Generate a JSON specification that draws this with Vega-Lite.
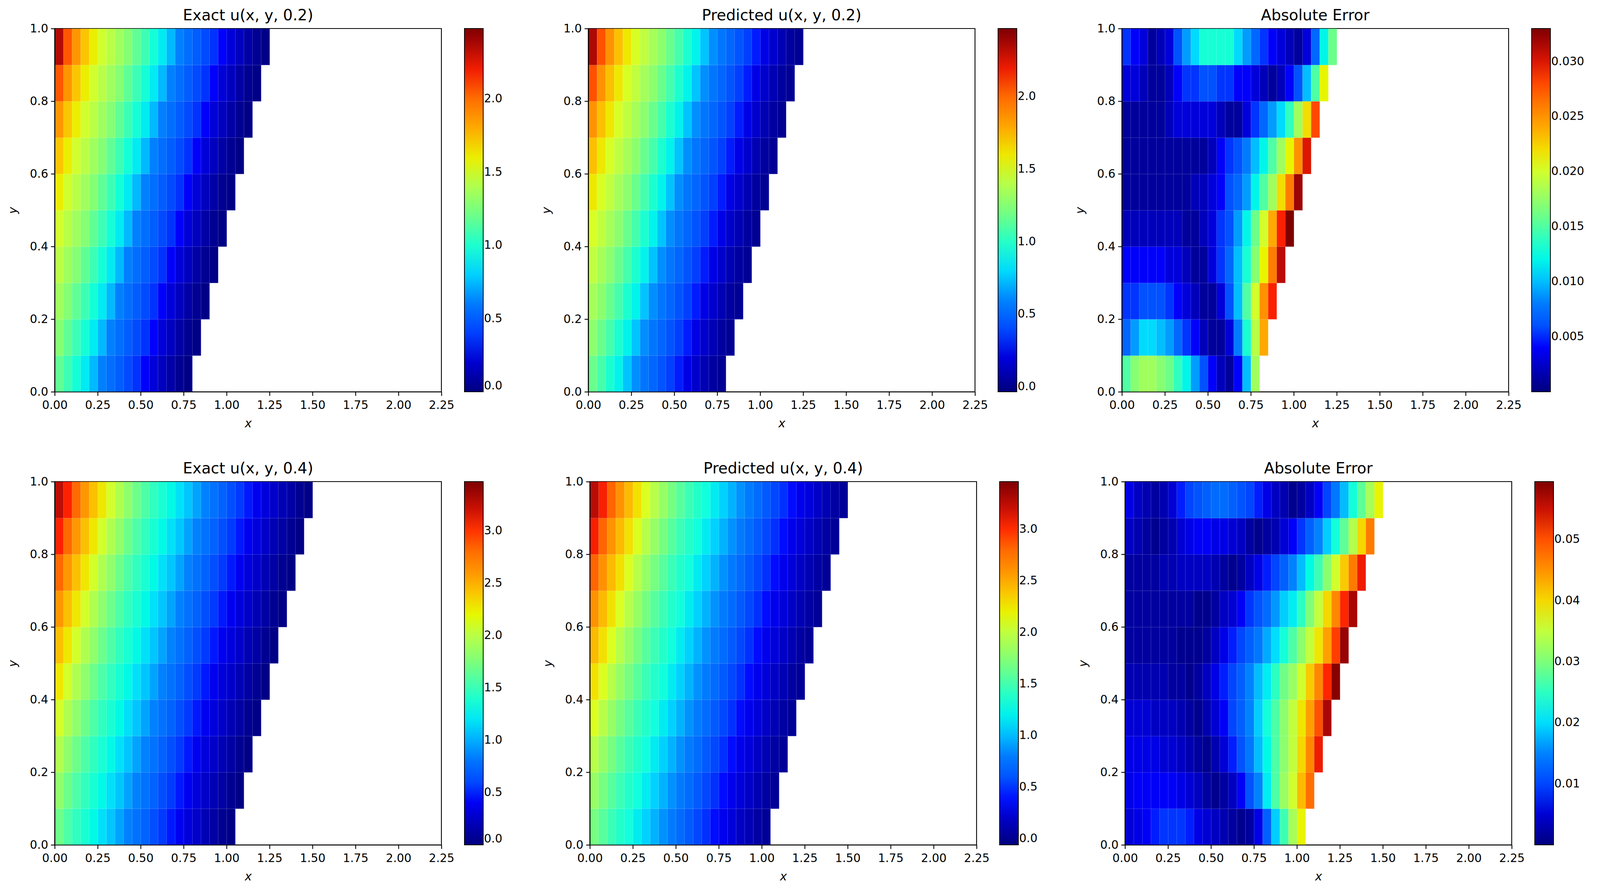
{"$schema":"https://vega.github.io/schema/vega-lite/v6.json","background":"white","padding":{"left":16,"top":19,"right":5,"bottom":5},"bounds":"flush","spacing":1160,"resolve":{"scale":{"color":"independent"},"legend":{"color":"independent"}},
"datasets":{"ua":[
{"x":0,"y":0,"v":1.17},{"x":0.05,"y":0,"v":1.08},{"x":0.1,"y":0,"v":0.97},{"x":0.15,"y":0,"v":0.87},{"x":0.2,"y":0,"v":0.74},{"x":0.25,"y":0,"v":0.62},{"x":0.3,"y":0,"v":0.55},{"x":0.35,"y":0,"v":0.49},{"x":0.4,"y":0,"v":0.43},{"x":0.45,"y":0,"v":0.37},{"x":0.5,"y":0,"v":0.3},{"x":0.55,"y":0,"v":0.22},{"x":0.6,"y":0,"v":0.16},{"x":0.65,"y":0,"v":0.1},{"x":0.7,"y":0,"v":0.05},{"x":0.75,"y":0,"v":0.02},
{"x":0,"y":0.1,"v":1.27},{"x":0.05,"y":0.1,"v":1.17},{"x":0.1,"y":0.1,"v":1.08},{"x":0.15,"y":0.1,"v":0.97},{"x":0.2,"y":0.1,"v":0.87},{"x":0.25,"y":0.1,"v":0.74},{"x":0.3,"y":0.1,"v":0.62},{"x":0.35,"y":0.1,"v":0.55},{"x":0.4,"y":0.1,"v":0.49},{"x":0.45,"y":0.1,"v":0.43},{"x":0.5,"y":0.1,"v":0.37},{"x":0.55,"y":0.1,"v":0.3},{"x":0.6,"y":0.1,"v":0.22},{"x":0.65,"y":0.1,"v":0.16},{"x":0.7,"y":0.1,"v":0.1},{"x":0.75,"y":0.1,"v":0.05},{"x":0.8,"y":0.1,"v":0.02},
{"x":0,"y":0.2,"v":1.35},{"x":0.05,"y":0.2,"v":1.27},{"x":0.1,"y":0.2,"v":1.17},{"x":0.15,"y":0.2,"v":1.08},{"x":0.2,"y":0.2,"v":0.97},{"x":0.25,"y":0.2,"v":0.87},{"x":0.3,"y":0.2,"v":0.74},{"x":0.35,"y":0.2,"v":0.62},{"x":0.4,"y":0.2,"v":0.55},{"x":0.45,"y":0.2,"v":0.49},{"x":0.5,"y":0.2,"v":0.43},{"x":0.55,"y":0.2,"v":0.37},{"x":0.6,"y":0.2,"v":0.3},{"x":0.65,"y":0.2,"v":0.22},{"x":0.7,"y":0.2,"v":0.16},{"x":0.75,"y":0.2,"v":0.1},{"x":0.8,"y":0.2,"v":0.05},{"x":0.85,"y":0.2,"v":0.02},
{"x":0,"y":0.3,"v":1.43},{"x":0.05,"y":0.3,"v":1.35},{"x":0.1,"y":0.3,"v":1.27},{"x":0.15,"y":0.3,"v":1.17},{"x":0.2,"y":0.3,"v":1.08},{"x":0.25,"y":0.3,"v":0.97},{"x":0.3,"y":0.3,"v":0.87},{"x":0.35,"y":0.3,"v":0.74},{"x":0.4,"y":0.3,"v":0.62},{"x":0.45,"y":0.3,"v":0.55},{"x":0.5,"y":0.3,"v":0.49},{"x":0.55,"y":0.3,"v":0.43},{"x":0.6,"y":0.3,"v":0.37},{"x":0.65,"y":0.3,"v":0.3},{"x":0.7,"y":0.3,"v":0.22},{"x":0.75,"y":0.3,"v":0.16},{"x":0.8,"y":0.3,"v":0.1},{"x":0.85,"y":0.3,"v":0.05},{"x":0.9,"y":0.3,"v":0.02},
{"x":0,"y":0.4,"v":1.5},{"x":0.05,"y":0.4,"v":1.43},{"x":0.1,"y":0.4,"v":1.35},{"x":0.15,"y":0.4,"v":1.27},{"x":0.2,"y":0.4,"v":1.17},{"x":0.25,"y":0.4,"v":1.08},{"x":0.3,"y":0.4,"v":0.97},{"x":0.35,"y":0.4,"v":0.87},{"x":0.4,"y":0.4,"v":0.74},{"x":0.45,"y":0.4,"v":0.62},{"x":0.5,"y":0.4,"v":0.55},{"x":0.55,"y":0.4,"v":0.49},{"x":0.6,"y":0.4,"v":0.43},{"x":0.65,"y":0.4,"v":0.37},{"x":0.7,"y":0.4,"v":0.3},{"x":0.75,"y":0.4,"v":0.22},{"x":0.8,"y":0.4,"v":0.16},{"x":0.85,"y":0.4,"v":0.1},{"x":0.9,"y":0.4,"v":0.05},{"x":0.95,"y":0.4,"v":0.02},
{"x":0,"y":0.5,"v":1.6},{"x":0.05,"y":0.5,"v":1.5},{"x":0.1,"y":0.5,"v":1.43},{"x":0.15,"y":0.5,"v":1.35},{"x":0.2,"y":0.5,"v":1.27},{"x":0.25,"y":0.5,"v":1.17},{"x":0.3,"y":0.5,"v":1.08},{"x":0.35,"y":0.5,"v":0.97},{"x":0.4,"y":0.5,"v":0.87},{"x":0.45,"y":0.5,"v":0.74},{"x":0.5,"y":0.5,"v":0.62},{"x":0.55,"y":0.5,"v":0.55},{"x":0.6,"y":0.5,"v":0.49},{"x":0.65,"y":0.5,"v":0.43},{"x":0.7,"y":0.5,"v":0.37},{"x":0.75,"y":0.5,"v":0.3},{"x":0.8,"y":0.5,"v":0.22},{"x":0.85,"y":0.5,"v":0.16},{"x":0.9,"y":0.5,"v":0.1},{"x":0.95,"y":0.5,"v":0.05},{"x":1,"y":0.5,"v":0.02},
{"x":0,"y":0.6,"v":1.72},{"x":0.05,"y":0.6,"v":1.6},{"x":0.1,"y":0.6,"v":1.5},{"x":0.15,"y":0.6,"v":1.43},{"x":0.2,"y":0.6,"v":1.35},{"x":0.25,"y":0.6,"v":1.27},{"x":0.3,"y":0.6,"v":1.17},{"x":0.35,"y":0.6,"v":1.08},{"x":0.4,"y":0.6,"v":0.97},{"x":0.45,"y":0.6,"v":0.87},{"x":0.5,"y":0.6,"v":0.74},{"x":0.55,"y":0.6,"v":0.62},{"x":0.6,"y":0.6,"v":0.55},{"x":0.65,"y":0.6,"v":0.49},{"x":0.7,"y":0.6,"v":0.43},{"x":0.75,"y":0.6,"v":0.37},{"x":0.8,"y":0.6,"v":0.3},{"x":0.85,"y":0.6,"v":0.22},{"x":0.9,"y":0.6,"v":0.16},{"x":0.95,"y":0.6,"v":0.1},{"x":1,"y":0.6,"v":0.05},{"x":1.05,"y":0.6,"v":0.02},
{"x":0,"y":0.7,"v":1.86},{"x":0.05,"y":0.7,"v":1.72},{"x":0.1,"y":0.7,"v":1.6},{"x":0.15,"y":0.7,"v":1.5},{"x":0.2,"y":0.7,"v":1.43},{"x":0.25,"y":0.7,"v":1.35},{"x":0.3,"y":0.7,"v":1.27},{"x":0.35,"y":0.7,"v":1.17},{"x":0.4,"y":0.7,"v":1.08},{"x":0.45,"y":0.7,"v":0.97},{"x":0.5,"y":0.7,"v":0.87},{"x":0.55,"y":0.7,"v":0.74},{"x":0.6,"y":0.7,"v":0.62},{"x":0.65,"y":0.7,"v":0.55},{"x":0.7,"y":0.7,"v":0.49},{"x":0.75,"y":0.7,"v":0.43},{"x":0.8,"y":0.7,"v":0.37},{"x":0.85,"y":0.7,"v":0.3},{"x":0.9,"y":0.7,"v":0.22},{"x":0.95,"y":0.7,"v":0.16},{"x":1,"y":0.7,"v":0.1},{"x":1.05,"y":0.7,"v":0.05},{"x":1.1,"y":0.7,"v":0.02},
{"x":0,"y":0.8,"v":2.07},{"x":0.05,"y":0.8,"v":1.86},{"x":0.1,"y":0.8,"v":1.72},{"x":0.15,"y":0.8,"v":1.6},{"x":0.2,"y":0.8,"v":1.5},{"x":0.25,"y":0.8,"v":1.43},{"x":0.3,"y":0.8,"v":1.35},{"x":0.35,"y":0.8,"v":1.27},{"x":0.4,"y":0.8,"v":1.17},{"x":0.45,"y":0.8,"v":1.08},{"x":0.5,"y":0.8,"v":0.97},{"x":0.55,"y":0.8,"v":0.87},{"x":0.6,"y":0.8,"v":0.74},{"x":0.65,"y":0.8,"v":0.62},{"x":0.7,"y":0.8,"v":0.55},{"x":0.75,"y":0.8,"v":0.49},{"x":0.8,"y":0.8,"v":0.43},{"x":0.85,"y":0.8,"v":0.37},{"x":0.9,"y":0.8,"v":0.3},{"x":0.95,"y":0.8,"v":0.22},{"x":1,"y":0.8,"v":0.16},{"x":1.05,"y":0.8,"v":0.1},{"x":1.1,"y":0.8,"v":0.05},{"x":1.15,"y":0.8,"v":0.02},
{"x":0,"y":0.9,"v":2.35},{"x":0.05,"y":0.9,"v":2.07},{"x":0.1,"y":0.9,"v":1.86},{"x":0.15,"y":0.9,"v":1.72},{"x":0.2,"y":0.9,"v":1.6},{"x":0.25,"y":0.9,"v":1.5},{"x":0.3,"y":0.9,"v":1.43},{"x":0.35,"y":0.9,"v":1.35},{"x":0.4,"y":0.9,"v":1.27},{"x":0.45,"y":0.9,"v":1.17},{"x":0.5,"y":0.9,"v":1.08},{"x":0.55,"y":0.9,"v":0.97},{"x":0.6,"y":0.9,"v":0.87},{"x":0.65,"y":0.9,"v":0.74},{"x":0.7,"y":0.9,"v":0.62},{"x":0.75,"y":0.9,"v":0.55},{"x":0.8,"y":0.9,"v":0.49},{"x":0.85,"y":0.9,"v":0.43},{"x":0.9,"y":0.9,"v":0.37},{"x":0.95,"y":0.9,"v":0.3},{"x":1,"y":0.9,"v":0.22},{"x":1.05,"y":0.9,"v":0.16},{"x":1.1,"y":0.9,"v":0.1},{"x":1.15,"y":0.9,"v":0.05},{"x":1.2,"y":0.9,"v":0.02}],
"ub":[
{"x":0,"y":0,"v":1.68},{"x":0.05,"y":0,"v":1.57},{"x":0.1,"y":0,"v":1.47},{"x":0.15,"y":0,"v":1.38},{"x":0.2,"y":0,"v":1.28},{"x":0.25,"y":0,"v":1.18},{"x":0.3,"y":0,"v":1.08},{"x":0.35,"y":0,"v":0.97},{"x":0.4,"y":0,"v":0.87},{"x":0.45,"y":0,"v":0.79},{"x":0.5,"y":0,"v":0.71},{"x":0.55,"y":0,"v":0.62},{"x":0.6,"y":0,"v":0.54},{"x":0.65,"y":0,"v":0.46},{"x":0.7,"y":0,"v":0.39},{"x":0.75,"y":0,"v":0.32},{"x":0.8,"y":0,"v":0.26},{"x":0.85,"y":0,"v":0.19},{"x":0.9,"y":0,"v":0.13},{"x":0.95,"y":0,"v":0.07},{"x":1,"y":0,"v":0.03},
{"x":0,"y":0.1,"v":1.82},{"x":0.05,"y":0.1,"v":1.68},{"x":0.1,"y":0.1,"v":1.57},{"x":0.15,"y":0.1,"v":1.47},{"x":0.2,"y":0.1,"v":1.38},{"x":0.25,"y":0.1,"v":1.28},{"x":0.3,"y":0.1,"v":1.18},{"x":0.35,"y":0.1,"v":1.08},{"x":0.4,"y":0.1,"v":0.97},{"x":0.45,"y":0.1,"v":0.87},{"x":0.5,"y":0.1,"v":0.79},{"x":0.55,"y":0.1,"v":0.71},{"x":0.6,"y":0.1,"v":0.62},{"x":0.65,"y":0.1,"v":0.54},{"x":0.7,"y":0.1,"v":0.46},{"x":0.75,"y":0.1,"v":0.39},{"x":0.8,"y":0.1,"v":0.32},{"x":0.85,"y":0.1,"v":0.26},{"x":0.9,"y":0.1,"v":0.19},{"x":0.95,"y":0.1,"v":0.13},{"x":1,"y":0.1,"v":0.07},{"x":1.05,"y":0.1,"v":0.03},
{"x":0,"y":0.2,"v":1.96},{"x":0.05,"y":0.2,"v":1.82},{"x":0.1,"y":0.2,"v":1.68},{"x":0.15,"y":0.2,"v":1.57},{"x":0.2,"y":0.2,"v":1.47},{"x":0.25,"y":0.2,"v":1.38},{"x":0.3,"y":0.2,"v":1.28},{"x":0.35,"y":0.2,"v":1.18},{"x":0.4,"y":0.2,"v":1.08},{"x":0.45,"y":0.2,"v":0.97},{"x":0.5,"y":0.2,"v":0.87},{"x":0.55,"y":0.2,"v":0.79},{"x":0.6,"y":0.2,"v":0.71},{"x":0.65,"y":0.2,"v":0.62},{"x":0.7,"y":0.2,"v":0.54},{"x":0.75,"y":0.2,"v":0.46},{"x":0.8,"y":0.2,"v":0.39},{"x":0.85,"y":0.2,"v":0.32},{"x":0.9,"y":0.2,"v":0.26},{"x":0.95,"y":0.2,"v":0.19},{"x":1,"y":0.2,"v":0.13},{"x":1.05,"y":0.2,"v":0.07},{"x":1.1,"y":0.2,"v":0.03},
{"x":0,"y":0.3,"v":2.11},{"x":0.05,"y":0.3,"v":1.96},{"x":0.1,"y":0.3,"v":1.82},{"x":0.15,"y":0.3,"v":1.68},{"x":0.2,"y":0.3,"v":1.57},{"x":0.25,"y":0.3,"v":1.47},{"x":0.3,"y":0.3,"v":1.38},{"x":0.35,"y":0.3,"v":1.28},{"x":0.4,"y":0.3,"v":1.18},{"x":0.45,"y":0.3,"v":1.08},{"x":0.5,"y":0.3,"v":0.97},{"x":0.55,"y":0.3,"v":0.87},{"x":0.6,"y":0.3,"v":0.79},{"x":0.65,"y":0.3,"v":0.71},{"x":0.7,"y":0.3,"v":0.62},{"x":0.75,"y":0.3,"v":0.54},{"x":0.8,"y":0.3,"v":0.46},{"x":0.85,"y":0.3,"v":0.39},{"x":0.9,"y":0.3,"v":0.32},{"x":0.95,"y":0.3,"v":0.26},{"x":1,"y":0.3,"v":0.19},{"x":1.05,"y":0.3,"v":0.13},{"x":1.1,"y":0.3,"v":0.07},{"x":1.15,"y":0.3,"v":0.03},
{"x":0,"y":0.4,"v":2.27},{"x":0.05,"y":0.4,"v":2.11},{"x":0.1,"y":0.4,"v":1.96},{"x":0.15,"y":0.4,"v":1.82},{"x":0.2,"y":0.4,"v":1.68},{"x":0.25,"y":0.4,"v":1.57},{"x":0.3,"y":0.4,"v":1.47},{"x":0.35,"y":0.4,"v":1.38},{"x":0.4,"y":0.4,"v":1.28},{"x":0.45,"y":0.4,"v":1.18},{"x":0.5,"y":0.4,"v":1.08},{"x":0.55,"y":0.4,"v":0.97},{"x":0.6,"y":0.4,"v":0.87},{"x":0.65,"y":0.4,"v":0.79},{"x":0.7,"y":0.4,"v":0.71},{"x":0.75,"y":0.4,"v":0.62},{"x":0.8,"y":0.4,"v":0.54},{"x":0.85,"y":0.4,"v":0.46},{"x":0.9,"y":0.4,"v":0.39},{"x":0.95,"y":0.4,"v":0.32},{"x":1,"y":0.4,"v":0.26},{"x":1.05,"y":0.4,"v":0.19},{"x":1.1,"y":0.4,"v":0.13},{"x":1.15,"y":0.4,"v":0.07},{"x":1.2,"y":0.4,"v":0.03},
{"x":0,"y":0.5,"v":2.43},{"x":0.05,"y":0.5,"v":2.27},{"x":0.1,"y":0.5,"v":2.11},{"x":0.15,"y":0.5,"v":1.96},{"x":0.2,"y":0.5,"v":1.82},{"x":0.25,"y":0.5,"v":1.68},{"x":0.3,"y":0.5,"v":1.57},{"x":0.35,"y":0.5,"v":1.47},{"x":0.4,"y":0.5,"v":1.38},{"x":0.45,"y":0.5,"v":1.28},{"x":0.5,"y":0.5,"v":1.18},{"x":0.55,"y":0.5,"v":1.08},{"x":0.6,"y":0.5,"v":0.97},{"x":0.65,"y":0.5,"v":0.87},{"x":0.7,"y":0.5,"v":0.79},{"x":0.75,"y":0.5,"v":0.71},{"x":0.8,"y":0.5,"v":0.62},{"x":0.85,"y":0.5,"v":0.54},{"x":0.9,"y":0.5,"v":0.46},{"x":0.95,"y":0.5,"v":0.39},{"x":1,"y":0.5,"v":0.32},{"x":1.05,"y":0.5,"v":0.26},{"x":1.1,"y":0.5,"v":0.19},{"x":1.15,"y":0.5,"v":0.13},{"x":1.2,"y":0.5,"v":0.07},{"x":1.25,"y":0.5,"v":0.03},
{"x":0,"y":0.6,"v":2.6},{"x":0.05,"y":0.6,"v":2.43},{"x":0.1,"y":0.6,"v":2.27},{"x":0.15,"y":0.6,"v":2.11},{"x":0.2,"y":0.6,"v":1.96},{"x":0.25,"y":0.6,"v":1.82},{"x":0.3,"y":0.6,"v":1.68},{"x":0.35,"y":0.6,"v":1.57},{"x":0.4,"y":0.6,"v":1.47},{"x":0.45,"y":0.6,"v":1.38},{"x":0.5,"y":0.6,"v":1.28},{"x":0.55,"y":0.6,"v":1.18},{"x":0.6,"y":0.6,"v":1.08},{"x":0.65,"y":0.6,"v":0.97},{"x":0.7,"y":0.6,"v":0.87},{"x":0.75,"y":0.6,"v":0.79},{"x":0.8,"y":0.6,"v":0.71},{"x":0.85,"y":0.6,"v":0.62},{"x":0.9,"y":0.6,"v":0.54},{"x":0.95,"y":0.6,"v":0.46},{"x":1,"y":0.6,"v":0.39},{"x":1.05,"y":0.6,"v":0.32},{"x":1.1,"y":0.6,"v":0.26},{"x":1.15,"y":0.6,"v":0.19},{"x":1.2,"y":0.6,"v":0.13},{"x":1.25,"y":0.6,"v":0.07},{"x":1.3,"y":0.6,"v":0.03},
{"x":0,"y":0.7,"v":2.82},{"x":0.05,"y":0.7,"v":2.6},{"x":0.1,"y":0.7,"v":2.43},{"x":0.15,"y":0.7,"v":2.27},{"x":0.2,"y":0.7,"v":2.11},{"x":0.25,"y":0.7,"v":1.96},{"x":0.3,"y":0.7,"v":1.82},{"x":0.35,"y":0.7,"v":1.68},{"x":0.4,"y":0.7,"v":1.57},{"x":0.45,"y":0.7,"v":1.47},{"x":0.5,"y":0.7,"v":1.38},{"x":0.55,"y":0.7,"v":1.28},{"x":0.6,"y":0.7,"v":1.18},{"x":0.65,"y":0.7,"v":1.08},{"x":0.7,"y":0.7,"v":0.97},{"x":0.75,"y":0.7,"v":0.87},{"x":0.8,"y":0.7,"v":0.79},{"x":0.85,"y":0.7,"v":0.71},{"x":0.9,"y":0.7,"v":0.62},{"x":0.95,"y":0.7,"v":0.54},{"x":1,"y":0.7,"v":0.46},{"x":1.05,"y":0.7,"v":0.39},{"x":1.1,"y":0.7,"v":0.32},{"x":1.15,"y":0.7,"v":0.26},{"x":1.2,"y":0.7,"v":0.19},{"x":1.25,"y":0.7,"v":0.13},{"x":1.3,"y":0.7,"v":0.07},{"x":1.35,"y":0.7,"v":0.03},
{"x":0,"y":0.8,"v":3.04},{"x":0.05,"y":0.8,"v":2.82},{"x":0.1,"y":0.8,"v":2.6},{"x":0.15,"y":0.8,"v":2.43},{"x":0.2,"y":0.8,"v":2.27},{"x":0.25,"y":0.8,"v":2.11},{"x":0.3,"y":0.8,"v":1.96},{"x":0.35,"y":0.8,"v":1.82},{"x":0.4,"y":0.8,"v":1.68},{"x":0.45,"y":0.8,"v":1.57},{"x":0.5,"y":0.8,"v":1.47},{"x":0.55,"y":0.8,"v":1.38},{"x":0.6,"y":0.8,"v":1.28},{"x":0.65,"y":0.8,"v":1.18},{"x":0.7,"y":0.8,"v":1.08},{"x":0.75,"y":0.8,"v":0.97},{"x":0.8,"y":0.8,"v":0.87},{"x":0.85,"y":0.8,"v":0.79},{"x":0.9,"y":0.8,"v":0.71},{"x":0.95,"y":0.8,"v":0.62},{"x":1,"y":0.8,"v":0.54},{"x":1.05,"y":0.8,"v":0.46},{"x":1.1,"y":0.8,"v":0.39},{"x":1.15,"y":0.8,"v":0.32},{"x":1.2,"y":0.8,"v":0.26},{"x":1.25,"y":0.8,"v":0.19},{"x":1.3,"y":0.8,"v":0.13},{"x":1.35,"y":0.8,"v":0.07},{"x":1.4,"y":0.8,"v":0.03},
{"x":0,"y":0.9,"v":3.25},{"x":0.05,"y":0.9,"v":3.04},{"x":0.1,"y":0.9,"v":2.82},{"x":0.15,"y":0.9,"v":2.6},{"x":0.2,"y":0.9,"v":2.43},{"x":0.25,"y":0.9,"v":2.27},{"x":0.3,"y":0.9,"v":2.11},{"x":0.35,"y":0.9,"v":1.96},{"x":0.4,"y":0.9,"v":1.82},{"x":0.45,"y":0.9,"v":1.68},{"x":0.5,"y":0.9,"v":1.57},{"x":0.55,"y":0.9,"v":1.47},{"x":0.6,"y":0.9,"v":1.38},{"x":0.65,"y":0.9,"v":1.28},{"x":0.7,"y":0.9,"v":1.18},{"x":0.75,"y":0.9,"v":1.08},{"x":0.8,"y":0.9,"v":0.97},{"x":0.85,"y":0.9,"v":0.87},{"x":0.9,"y":0.9,"v":0.79},{"x":0.95,"y":0.9,"v":0.71},{"x":1,"y":0.9,"v":0.62},{"x":1.05,"y":0.9,"v":0.54},{"x":1.1,"y":0.9,"v":0.46},{"x":1.15,"y":0.9,"v":0.39},{"x":1.2,"y":0.9,"v":0.32},{"x":1.25,"y":0.9,"v":0.26},{"x":1.3,"y":0.9,"v":0.19},{"x":1.35,"y":0.9,"v":0.13},{"x":1.4,"y":0.9,"v":0.07},{"x":1.45,"y":0.9,"v":0.03}],
"ea":[
{"x":0,"y":0,"v":0.015},{"x":0.05,"y":0,"v":0.017},{"x":0.1,"y":0,"v":0.018},{"x":0.15,"y":0,"v":0.018},{"x":0.2,"y":0,"v":0.017},{"x":0.25,"y":0,"v":0.016},{"x":0.3,"y":0,"v":0.014},{"x":0.35,"y":0,"v":0.012},{"x":0.4,"y":0,"v":0.009},{"x":0.45,"y":0,"v":0.006},{"x":0.5,"y":0,"v":0.004},{"x":0.55,"y":0,"v":0.002},{"x":0.6,"y":0,"v":0.001},{"x":0.65,"y":0,"v":0.004},{"x":0.7,"y":0,"v":0.01},{"x":0.75,"y":0,"v":0.018},
{"x":0,"y":0.1,"v":0.007},{"x":0.05,"y":0.1,"v":0.009},{"x":0.1,"y":0.1,"v":0.011},{"x":0.15,"y":0.1,"v":0.011},{"x":0.2,"y":0.1,"v":0.01},{"x":0.25,"y":0.1,"v":0.009},{"x":0.3,"y":0.1,"v":0.007},{"x":0.35,"y":0.1,"v":0.005},{"x":0.4,"y":0.1,"v":0.004},{"x":0.45,"y":0.1,"v":0.002},{"x":0.5,"y":0.1,"v":0.001},{"x":0.55,"y":0.1,"v":0.001},{"x":0.6,"y":0.1,"v":0.003},{"x":0.65,"y":0.1,"v":0.008},{"x":0.7,"y":0.1,"v":0.013},{"x":0.75,"y":0.1,"v":0.019},{"x":0.8,"y":0.1,"v":0.024},
{"x":0,"y":0.2,"v":0.005},{"x":0.05,"y":0.2,"v":0.005},{"x":0.1,"y":0.2,"v":0.006},{"x":0.15,"y":0.2,"v":0.006},{"x":0.2,"y":0.2,"v":0.006},{"x":0.25,"y":0.2,"v":0.005},{"x":0.3,"y":0.2,"v":0.004},{"x":0.35,"y":0.2,"v":0.003},{"x":0.4,"y":0.2,"v":0.002},{"x":0.45,"y":0.2,"v":0.001},{"x":0.5,"y":0.2,"v":0.001},{"x":0.55,"y":0.2,"v":0.003},{"x":0.6,"y":0.2,"v":0.006},{"x":0.65,"y":0.2,"v":0.01},{"x":0.7,"y":0.2,"v":0.015},{"x":0.75,"y":0.2,"v":0.02},{"x":0.8,"y":0.2,"v":0.025},{"x":0.85,"y":0.2,"v":0.029},
{"x":0,"y":0.3,"v":0.004},{"x":0.05,"y":0.3,"v":0.004},{"x":0.1,"y":0.3,"v":0.004},{"x":0.15,"y":0.3,"v":0.004},{"x":0.2,"y":0.3,"v":0.004},{"x":0.25,"y":0.3,"v":0.003},{"x":0.3,"y":0.3,"v":0.003},{"x":0.35,"y":0.3,"v":0.002},{"x":0.4,"y":0.3,"v":0.001},{"x":0.45,"y":0.3,"v":0.001},{"x":0.5,"y":0.3,"v":0.003},{"x":0.55,"y":0.3,"v":0.005},{"x":0.6,"y":0.3,"v":0.007},{"x":0.65,"y":0.3,"v":0.01},{"x":0.7,"y":0.3,"v":0.013},{"x":0.75,"y":0.3,"v":0.017},{"x":0.8,"y":0.3,"v":0.021},{"x":0.85,"y":0.3,"v":0.026},{"x":0.9,"y":0.3,"v":0.031},
{"x":0,"y":0.4,"v":0.002},{"x":0.05,"y":0.4,"v":0.002},{"x":0.1,"y":0.4,"v":0.002},{"x":0.15,"y":0.4,"v":0.002},{"x":0.2,"y":0.4,"v":0.002},{"x":0.25,"y":0.4,"v":0.002},{"x":0.3,"y":0.4,"v":0.002},{"x":0.35,"y":0.4,"v":0.001},{"x":0.4,"y":0.4,"v":0.001},{"x":0.45,"y":0.4,"v":0.002},{"x":0.5,"y":0.4,"v":0.003},{"x":0.55,"y":0.4,"v":0.005},{"x":0.6,"y":0.4,"v":0.006},{"x":0.65,"y":0.4,"v":0.009},{"x":0.7,"y":0.4,"v":0.012},{"x":0.75,"y":0.4,"v":0.016},{"x":0.8,"y":0.4,"v":0.02},{"x":0.85,"y":0.4,"v":0.024},{"x":0.9,"y":0.4,"v":0.029},{"x":0.95,"y":0.4,"v":0.033},
{"x":0,"y":0.5,"v":0.001},{"x":0.05,"y":0.5,"v":0.001},{"x":0.1,"y":0.5,"v":0.001},{"x":0.15,"y":0.5,"v":0.001},{"x":0.2,"y":0.5,"v":0.001},{"x":0.25,"y":0.5,"v":0.001},{"x":0.3,"y":0.5,"v":0.001},{"x":0.35,"y":0.5,"v":0.001},{"x":0.4,"y":0.5,"v":0.002},{"x":0.45,"y":0.5,"v":0.002},{"x":0.5,"y":0.5,"v":0.003},{"x":0.55,"y":0.5,"v":0.004},{"x":0.6,"y":0.5,"v":0.006},{"x":0.65,"y":0.5,"v":0.007},{"x":0.7,"y":0.5,"v":0.009},{"x":0.75,"y":0.5,"v":0.012},{"x":0.8,"y":0.5,"v":0.015},{"x":0.85,"y":0.5,"v":0.018},{"x":0.9,"y":0.5,"v":0.022},{"x":0.95,"y":0.5,"v":0.026},{"x":1,"y":0.5,"v":0.032},
{"x":0,"y":0.6,"v":0.001},{"x":0.05,"y":0.6,"v":0.001},{"x":0.1,"y":0.6,"v":0.001},{"x":0.15,"y":0.6,"v":0.001},{"x":0.2,"y":0.6,"v":0.001},{"x":0.25,"y":0.6,"v":0.001},{"x":0.3,"y":0.6,"v":0.001},{"x":0.35,"y":0.6,"v":0.001},{"x":0.4,"y":0.6,"v":0.001},{"x":0.45,"y":0.6,"v":0.001},{"x":0.5,"y":0.6,"v":0.002},{"x":0.55,"y":0.6,"v":0.004},{"x":0.6,"y":0.6,"v":0.005},{"x":0.65,"y":0.6,"v":0.006},{"x":0.7,"y":0.6,"v":0.008},{"x":0.75,"y":0.6,"v":0.01},{"x":0.8,"y":0.6,"v":0.012},{"x":0.85,"y":0.6,"v":0.015},{"x":0.9,"y":0.6,"v":0.018},{"x":0.95,"y":0.6,"v":0.021},{"x":1,"y":0.6,"v":0.025},{"x":1.05,"y":0.6,"v":0.03},
{"x":0,"y":0.7,"v":0.001},{"x":0.05,"y":0.7,"v":0.001},{"x":0.1,"y":0.7,"v":0.001},{"x":0.15,"y":0.7,"v":0.001},{"x":0.2,"y":0.7,"v":0.001},{"x":0.25,"y":0.7,"v":0.002},{"x":0.3,"y":0.7,"v":0.003},{"x":0.35,"y":0.7,"v":0.003},{"x":0.4,"y":0.7,"v":0.003},{"x":0.45,"y":0.7,"v":0.003},{"x":0.5,"y":0.7,"v":0.003},{"x":0.55,"y":0.7,"v":0.002},{"x":0.6,"y":0.7,"v":0.001},{"x":0.65,"y":0.7,"v":0.001},{"x":0.7,"y":0.7,"v":0.003},{"x":0.75,"y":0.7,"v":0.005},{"x":0.8,"y":0.7,"v":0.007},{"x":0.85,"y":0.7,"v":0.009},{"x":0.9,"y":0.7,"v":0.011},{"x":0.95,"y":0.7,"v":0.014},{"x":1,"y":0.7,"v":0.018},{"x":1.05,"y":0.7,"v":0.022},{"x":1.1,"y":0.7,"v":0.028},
{"x":0,"y":0.8,"v":0.003},{"x":0.05,"y":0.8,"v":0.003},{"x":0.1,"y":0.8,"v":0.002},{"x":0.15,"y":0.8,"v":0.001},{"x":0.2,"y":0.8,"v":0.001},{"x":0.25,"y":0.8,"v":0.002},{"x":0.3,"y":0.8,"v":0.004},{"x":0.35,"y":0.8,"v":0.005},{"x":0.4,"y":0.8,"v":0.005},{"x":0.45,"y":0.8,"v":0.006},{"x":0.5,"y":0.8,"v":0.006},{"x":0.55,"y":0.8,"v":0.005},{"x":0.6,"y":0.8,"v":0.005},{"x":0.65,"y":0.8,"v":0.004},{"x":0.7,"y":0.8,"v":0.004},{"x":0.75,"y":0.8,"v":0.003},{"x":0.8,"y":0.8,"v":0.002},{"x":0.85,"y":0.8,"v":0.001},{"x":0.9,"y":0.8,"v":0.002},{"x":0.95,"y":0.8,"v":0.004},{"x":1,"y":0.8,"v":0.006},{"x":1.05,"y":0.8,"v":0.01},{"x":1.1,"y":0.8,"v":0.015},{"x":1.15,"y":0.8,"v":0.021},
{"x":0,"y":0.9,"v":0.005},{"x":0.05,"y":0.9,"v":0.004},{"x":0.1,"y":0.9,"v":0.003},{"x":0.15,"y":0.9,"v":0.001},{"x":0.2,"y":0.9,"v":0.002},{"x":0.25,"y":0.9,"v":0.003},{"x":0.3,"y":0.9,"v":0.006},{"x":0.35,"y":0.9,"v":0.009},{"x":0.4,"y":0.9,"v":0.011},{"x":0.45,"y":0.9,"v":0.013},{"x":0.5,"y":0.9,"v":0.013},{"x":0.55,"y":0.9,"v":0.013},{"x":0.6,"y":0.9,"v":0.013},{"x":0.65,"y":0.9,"v":0.011},{"x":0.7,"y":0.9,"v":0.009},{"x":0.75,"y":0.9,"v":0.007},{"x":0.8,"y":0.9,"v":0.005},{"x":0.85,"y":0.9,"v":0.004},{"x":0.9,"y":0.9,"v":0.003},{"x":0.95,"y":0.9,"v":0.002},{"x":1,"y":0.9,"v":0.001},{"x":1.05,"y":0.9,"v":0.003},{"x":1.1,"y":0.9,"v":0.007},{"x":1.15,"y":0.9,"v":0.012},{"x":1.2,"y":0.9,"v":0.016}],
"eb":[
{"x":0,"y":0,"v":0.005},{"x":0.05,"y":0,"v":0.006},{"x":0.1,"y":0,"v":0.007},{"x":0.15,"y":0,"v":0.008},{"x":0.2,"y":0,"v":0.009},{"x":0.25,"y":0,"v":0.009},{"x":0.3,"y":0,"v":0.009},{"x":0.35,"y":0,"v":0.008},{"x":0.4,"y":0,"v":0.006},{"x":0.45,"y":0,"v":0.005},{"x":0.5,"y":0,"v":0.004},{"x":0.55,"y":0,"v":0.003},{"x":0.6,"y":0,"v":0.002},{"x":0.65,"y":0,"v":0.001},{"x":0.7,"y":0,"v":0.002},{"x":0.75,"y":0,"v":0.006},{"x":0.8,"y":0,"v":0.012},{"x":0.85,"y":0,"v":0.019},{"x":0.9,"y":0,"v":0.026},{"x":0.95,"y":0,"v":0.033},{"x":1,"y":0,"v":0.038},
{"x":0,"y":0.1,"v":0.006},{"x":0.05,"y":0.1,"v":0.007},{"x":0.1,"y":0.1,"v":0.007},{"x":0.15,"y":0.1,"v":0.007},{"x":0.2,"y":0.1,"v":0.007},{"x":0.25,"y":0.1,"v":0.007},{"x":0.3,"y":0.1,"v":0.006},{"x":0.35,"y":0.1,"v":0.005},{"x":0.4,"y":0.1,"v":0.004},{"x":0.45,"y":0.1,"v":0.002},{"x":0.5,"y":0.1,"v":0.001},{"x":0.55,"y":0.1,"v":0.002},{"x":0.6,"y":0.1,"v":0.004},{"x":0.65,"y":0.1,"v":0.007},{"x":0.7,"y":0.1,"v":0.011},{"x":0.75,"y":0.1,"v":0.015},{"x":0.8,"y":0.1,"v":0.021},{"x":0.85,"y":0.1,"v":0.027},{"x":0.9,"y":0.1,"v":0.032},{"x":0.95,"y":0.1,"v":0.036},{"x":1,"y":0.1,"v":0.042},{"x":1.05,"y":0.1,"v":0.048},
{"x":0,"y":0.2,"v":0.006},{"x":0.05,"y":0.2,"v":0.006},{"x":0.1,"y":0.2,"v":0.006},{"x":0.15,"y":0.2,"v":0.006},{"x":0.2,"y":0.2,"v":0.005},{"x":0.25,"y":0.2,"v":0.005},{"x":0.3,"y":0.2,"v":0.004},{"x":0.35,"y":0.2,"v":0.003},{"x":0.4,"y":0.2,"v":0.002},{"x":0.45,"y":0.2,"v":0.001},{"x":0.5,"y":0.2,"v":0.003},{"x":0.55,"y":0.2,"v":0.005},{"x":0.6,"y":0.2,"v":0.008},{"x":0.65,"y":0.2,"v":0.011},{"x":0.7,"y":0.2,"v":0.014},{"x":0.75,"y":0.2,"v":0.018},{"x":0.8,"y":0.2,"v":0.022},{"x":0.85,"y":0.2,"v":0.027},{"x":0.9,"y":0.2,"v":0.031},{"x":0.95,"y":0.2,"v":0.035},{"x":1,"y":0.2,"v":0.04},{"x":1.05,"y":0.2,"v":0.046},{"x":1.1,"y":0.2,"v":0.053},
{"x":0,"y":0.3,"v":0.005},{"x":0.05,"y":0.3,"v":0.005},{"x":0.1,"y":0.3,"v":0.005},{"x":0.15,"y":0.3,"v":0.004},{"x":0.2,"y":0.3,"v":0.004},{"x":0.25,"y":0.3,"v":0.004},{"x":0.3,"y":0.3,"v":0.003},{"x":0.35,"y":0.3,"v":0.002},{"x":0.4,"y":0.3,"v":0.001},{"x":0.45,"y":0.3,"v":0.003},{"x":0.5,"y":0.3,"v":0.005},{"x":0.55,"y":0.3,"v":0.007},{"x":0.6,"y":0.3,"v":0.01},{"x":0.65,"y":0.3,"v":0.012},{"x":0.7,"y":0.3,"v":0.015},{"x":0.75,"y":0.3,"v":0.019},{"x":0.8,"y":0.3,"v":0.023},{"x":0.85,"y":0.3,"v":0.027},{"x":0.9,"y":0.3,"v":0.031},{"x":0.95,"y":0.3,"v":0.035},{"x":1,"y":0.3,"v":0.039},{"x":1.05,"y":0.3,"v":0.044},{"x":1.1,"y":0.3,"v":0.05},{"x":1.15,"y":0.3,"v":0.057},
{"x":0,"y":0.4,"v":0.003},{"x":0.05,"y":0.4,"v":0.003},{"x":0.1,"y":0.4,"v":0.003},{"x":0.15,"y":0.4,"v":0.003},{"x":0.2,"y":0.4,"v":0.003},{"x":0.25,"y":0.4,"v":0.002},{"x":0.3,"y":0.4,"v":0.002},{"x":0.35,"y":0.4,"v":0.001},{"x":0.4,"y":0.4,"v":0.002},{"x":0.45,"y":0.4,"v":0.004},{"x":0.5,"y":0.4,"v":0.006},{"x":0.55,"y":0.4,"v":0.008},{"x":0.6,"y":0.4,"v":0.01},{"x":0.65,"y":0.4,"v":0.012},{"x":0.7,"y":0.4,"v":0.015},{"x":0.75,"y":0.4,"v":0.018},{"x":0.8,"y":0.4,"v":0.021},{"x":0.85,"y":0.4,"v":0.025},{"x":0.9,"y":0.4,"v":0.029},{"x":0.95,"y":0.4,"v":0.032},{"x":1,"y":0.4,"v":0.036},{"x":1.05,"y":0.4,"v":0.041},{"x":1.1,"y":0.4,"v":0.046},{"x":1.15,"y":0.4,"v":0.052},{"x":1.2,"y":0.4,"v":0.059},
{"x":0,"y":0.5,"v":0.002},{"x":0.05,"y":0.5,"v":0.002},{"x":0.1,"y":0.5,"v":0.002},{"x":0.15,"y":0.5,"v":0.002},{"x":0.2,"y":0.5,"v":0.002},{"x":0.25,"y":0.5,"v":0.002},{"x":0.3,"y":0.5,"v":0.001},{"x":0.35,"y":0.5,"v":0.001},{"x":0.4,"y":0.5,"v":0.001},{"x":0.45,"y":0.5,"v":0.002},{"x":0.5,"y":0.5,"v":0.004},{"x":0.55,"y":0.5,"v":0.006},{"x":0.6,"y":0.5,"v":0.008},{"x":0.65,"y":0.5,"v":0.01},{"x":0.7,"y":0.5,"v":0.012},{"x":0.75,"y":0.5,"v":0.014},{"x":0.8,"y":0.5,"v":0.017},{"x":0.85,"y":0.5,"v":0.02},{"x":0.9,"y":0.5,"v":0.023},{"x":0.95,"y":0.5,"v":0.027},{"x":1,"y":0.5,"v":0.031},{"x":1.05,"y":0.5,"v":0.035},{"x":1.1,"y":0.5,"v":0.039},{"x":1.15,"y":0.5,"v":0.044},{"x":1.2,"y":0.5,"v":0.051},{"x":1.25,"y":0.5,"v":0.058},
{"x":0,"y":0.6,"v":0.002},{"x":0.05,"y":0.6,"v":0.002},{"x":0.1,"y":0.6,"v":0.002},{"x":0.15,"y":0.6,"v":0.002},{"x":0.2,"y":0.6,"v":0.002},{"x":0.25,"y":0.6,"v":0.002},{"x":0.3,"y":0.6,"v":0.002},{"x":0.35,"y":0.6,"v":0.002},{"x":0.4,"y":0.6,"v":0.001},{"x":0.45,"y":0.6,"v":0.001},{"x":0.5,"y":0.6,"v":0.002},{"x":0.55,"y":0.6,"v":0.004},{"x":0.6,"y":0.6,"v":0.005},{"x":0.65,"y":0.6,"v":0.007},{"x":0.7,"y":0.6,"v":0.009},{"x":0.75,"y":0.6,"v":0.011},{"x":0.8,"y":0.6,"v":0.013},{"x":0.85,"y":0.6,"v":0.016},{"x":0.9,"y":0.6,"v":0.019},{"x":0.95,"y":0.6,"v":0.021},{"x":1,"y":0.6,"v":0.025},{"x":1.05,"y":0.6,"v":0.03},{"x":1.1,"y":0.6,"v":0.035},{"x":1.15,"y":0.6,"v":0.04},{"x":1.2,"y":0.6,"v":0.046},{"x":1.25,"y":0.6,"v":0.052},{"x":1.3,"y":0.6,"v":0.057},
{"x":0,"y":0.7,"v":0.002},{"x":0.05,"y":0.7,"v":0.002},{"x":0.1,"y":0.7,"v":0.002},{"x":0.15,"y":0.7,"v":0.002},{"x":0.2,"y":0.7,"v":0.003},{"x":0.25,"y":0.7,"v":0.003},{"x":0.3,"y":0.7,"v":0.004},{"x":0.35,"y":0.7,"v":0.004},{"x":0.4,"y":0.7,"v":0.004},{"x":0.45,"y":0.7,"v":0.004},{"x":0.5,"y":0.7,"v":0.003},{"x":0.55,"y":0.7,"v":0.002},{"x":0.6,"y":0.7,"v":0.001},{"x":0.65,"y":0.7,"v":0.002},{"x":0.7,"y":0.7,"v":0.004},{"x":0.75,"y":0.7,"v":0.006},{"x":0.8,"y":0.7,"v":0.008},{"x":0.85,"y":0.7,"v":0.01},{"x":0.9,"y":0.7,"v":0.012},{"x":0.95,"y":0.7,"v":0.015},{"x":1,"y":0.7,"v":0.018},{"x":1.05,"y":0.7,"v":0.022},{"x":1.1,"y":0.7,"v":0.026},{"x":1.15,"y":0.7,"v":0.031},{"x":1.2,"y":0.7,"v":0.036},{"x":1.25,"y":0.7,"v":0.041},{"x":1.3,"y":0.7,"v":0.047},{"x":1.35,"y":0.7,"v":0.053},
{"x":0,"y":0.8,"v":0.004},{"x":0.05,"y":0.8,"v":0.003},{"x":0.1,"y":0.8,"v":0.002},{"x":0.15,"y":0.8,"v":0.001},{"x":0.2,"y":0.8,"v":0.002},{"x":0.25,"y":0.8,"v":0.003},{"x":0.3,"y":0.8,"v":0.005},{"x":0.35,"y":0.8,"v":0.006},{"x":0.4,"y":0.8,"v":0.007},{"x":0.45,"y":0.8,"v":0.007},{"x":0.5,"y":0.8,"v":0.006},{"x":0.55,"y":0.8,"v":0.006},{"x":0.6,"y":0.8,"v":0.005},{"x":0.65,"y":0.8,"v":0.004},{"x":0.7,"y":0.8,"v":0.002},{"x":0.75,"y":0.8,"v":0.001},{"x":0.8,"y":0.8,"v":0.002},{"x":0.85,"y":0.8,"v":0.003},{"x":0.9,"y":0.8,"v":0.005},{"x":0.95,"y":0.8,"v":0.007},{"x":1,"y":0.8,"v":0.009},{"x":1.05,"y":0.8,"v":0.012},{"x":1.1,"y":0.8,"v":0.015},{"x":1.15,"y":0.8,"v":0.019},{"x":1.2,"y":0.8,"v":0.023},{"x":1.25,"y":0.8,"v":0.028},{"x":1.3,"y":0.8,"v":0.034},{"x":1.35,"y":0.8,"v":0.04},{"x":1.4,"y":0.8,"v":0.047},
{"x":0,"y":0.9,"v":0.006},{"x":0.05,"y":0.9,"v":0.004},{"x":0.1,"y":0.9,"v":0.003},{"x":0.15,"y":0.9,"v":0.002},{"x":0.2,"y":0.9,"v":0.003},{"x":0.25,"y":0.9,"v":0.005},{"x":0.3,"y":0.9,"v":0.008},{"x":0.35,"y":0.9,"v":0.01},{"x":0.4,"y":0.9,"v":0.011},{"x":0.45,"y":0.9,"v":0.012},{"x":0.5,"y":0.9,"v":0.013},{"x":0.55,"y":0.9,"v":0.013},{"x":0.6,"y":0.9,"v":0.012},{"x":0.65,"y":0.9,"v":0.011},{"x":0.7,"y":0.9,"v":0.01},{"x":0.75,"y":0.9,"v":0.008},{"x":0.8,"y":0.9,"v":0.006},{"x":0.85,"y":0.9,"v":0.004},{"x":0.9,"y":0.9,"v":0.003},{"x":0.95,"y":0.9,"v":0.001},{"x":1,"y":0.9,"v":0.002},{"x":1.05,"y":0.9,"v":0.004},{"x":1.1,"y":0.9,"v":0.007},{"x":1.15,"y":0.9,"v":0.01},{"x":1.2,"y":0.9,"v":0.014},{"x":1.25,"y":0.9,"v":0.018},{"x":1.3,"y":0.9,"v":0.023},{"x":1.35,"y":0.9,"v":0.028},{"x":1.4,"y":0.9,"v":0.033},{"x":1.45,"y":0.9,"v":0.038}]},
"config":{"font":"DejaVu Sans","view":{"stroke":"#000","strokeWidth":2.2},
"axis":{"grid":false,"domainColor":"#000","domainWidth":2.2,"tickColor":"#000","tickWidth":2.2,"tickSize":10,"labelColor":"#000","labelFontSize":29.5,"labelPadding":10,"labelOverlap":false,"labelFlush":false,"titleFontSize":30,"titleFontStyle":"italic","titleFontWeight":"normal","titleColor":"#000"},
"axisX":{"titlePadding":18},"axisY":{"titlePadding":28,"labelAngle":0,"labelPadding":7},
"legend":{"orient":"right","offset":59,"gradientLength":930,"gradientThickness":48,"gradientStrokeColor":"#000","gradientStrokeWidth":2,"labelFontSize":29.5,"labelColor":"#000","labelOffset":26,"labelOverlap":false,"padding":0},
"title":{"fontSize":39,"fontWeight":"normal","color":"#000","offset":-2,"anchor":"middle"}},
"vconcat":[{"bounds":"flush","spacing":376,"resolve":{"scale":{"color":"independent"},"legend":{"color":"independent"}},"hconcat":[
{"title":"Exact u(x, y, 0.2)","width":990,"height":930,"data":{"name":"ua"},"mark":{"type":"rect","binSpacing":0},"encoding":{"x":{"field":"x","type":"quantitative","bin":{"step":0.05,"extent":[0,2.25]},"scale":{"domain":[0,2.25]},"axis":{"title":"x","format":".2f","values":[0,0.25,0.5,0.75,1,1.25,1.5,1.75,2,2.25]}},"y":{"field":"y","type":"quantitative","bin":{"step":0.1,"extent":[0,1]},"scale":{"domain":[0,1]},"axis":{"title":"y","format":".1f","values":[0,0.2,0.4,0.6,0.8,1]}},"color":{"field":"v","type":"quantitative","scale":{"domain":[0,0.31,0.62,0.93,1.24,1.55,1.86,2.17,2.48],"range":["#00007f","#0000ff","#0080ff","#14ffe2","#7bff7b","#e2ff14","#ff9600","#ff2100","#7f0000"]},"legend":{"title":null,"format":".1f","values":[0,0.5,1,1.5,2]}}}},
{"title":"Predicted  u(x, y, 0.2)","width":990,"height":930,"data":{"name":"ua"},"mark":{"type":"rect","binSpacing":0},"encoding":{"x":{"field":"x","type":"quantitative","bin":{"step":0.05,"extent":[0,2.25]},"scale":{"domain":[0,2.25]},"axis":{"title":"x","format":".2f","values":[0,0.25,0.5,0.75,1,1.25,1.5,1.75,2,2.25]}},"y":{"field":"y","type":"quantitative","bin":{"step":0.1,"extent":[0,1]},"scale":{"domain":[0,1]},"axis":{"title":"y","format":".1f","values":[0,0.2,0.4,0.6,0.8,1]}},"color":{"field":"v","type":"quantitative","scale":{"domain":[-0.035,0.278,0.591,0.904,1.218,1.531,1.844,2.157,2.47],"range":["#00007f","#0000ff","#0080ff","#14ffe2","#7bff7b","#e2ff14","#ff9600","#ff2100","#7f0000"]},"legend":{"title":null,"format":".1f","values":[0,0.5,1,1.5,2]}}}},
{"title":"Absolute Error","width":990,"height":930,"data":{"name":"ea"},"mark":{"type":"rect","binSpacing":0},"encoding":{"x":{"field":"x","type":"quantitative","bin":{"step":0.05,"extent":[0,2.25]},"scale":{"domain":[0,2.25]},"axis":{"title":"x","format":".2f","values":[0,0.25,0.5,0.75,1,1.25,1.5,1.75,2,2.25]}},"y":{"field":"y","type":"quantitative","bin":{"step":0.1,"extent":[0,1]},"scale":{"domain":[0,1]},"axis":{"title":"y","format":".1f","values":[0,0.2,0.4,0.6,0.8,1]}},"color":{"field":"v","type":"quantitative","scale":{"domain":[0,0.004125,0.00825,0.012375,0.0165,0.020625,0.02475,0.028875,0.033],"range":["#00007f","#0000ff","#0080ff","#14ffe2","#7bff7b","#e2ff14","#ff9600","#ff2100","#7f0000"]},"legend":{"title":null,"format":".3f","values":[0.005,0.01,0.015,0.02,0.025,0.03]}}}}
]},{"bounds":"flush","spacing":380,"resolve":{"scale":{"color":"independent"},"legend":{"color":"independent"}},"hconcat":[
{"title":"Exact u(x, y, 0.4)","width":990,"height":930,"data":{"name":"ub"},"mark":{"type":"rect","binSpacing":0},"encoding":{"x":{"field":"x","type":"quantitative","bin":{"step":0.05,"extent":[0,2.25]},"scale":{"domain":[0,2.25]},"axis":{"title":"x","format":".2f","values":[0,0.25,0.5,0.75,1,1.25,1.5,1.75,2,2.25]}},"y":{"field":"y","type":"quantitative","bin":{"step":0.1,"extent":[0,1]},"scale":{"domain":[0,1]},"axis":{"title":"y","format":".1f","values":[0,0.2,0.4,0.6,0.8,1]}},"color":{"field":"v","type":"quantitative","scale":{"domain":[0,0.434,0.868,1.301,1.735,2.169,2.603,3.036,3.47],"range":["#00007f","#0000ff","#0080ff","#14ffe2","#7bff7b","#e2ff14","#ff9600","#ff2100","#7f0000"]},"legend":{"title":null,"format":".1f","values":[0,0.5,1,1.5,2,2.5,3]}}}},
{"title":"Predicted  u(x, y, 0.4)","width":990,"height":930,"data":{"name":"ub"},"mark":{"type":"rect","binSpacing":0},"encoding":{"x":{"field":"x","type":"quantitative","bin":{"step":0.05,"extent":[0,2.25]},"scale":{"domain":[0,2.25]},"axis":{"title":"x","format":".2f","values":[0,0.25,0.5,0.75,1,1.25,1.5,1.75,2,2.25]}},"y":{"field":"y","type":"quantitative","bin":{"step":0.1,"extent":[0,1]},"scale":{"domain":[0,1]},"axis":{"title":"y","format":".1f","values":[0,0.2,0.4,0.6,0.8,1]}},"color":{"field":"v","type":"quantitative","scale":{"domain":[-0.06,0.38,0.82,1.26,1.7,2.14,2.58,3.02,3.46],"range":["#00007f","#0000ff","#0080ff","#14ffe2","#7bff7b","#e2ff14","#ff9600","#ff2100","#7f0000"]},"legend":{"title":null,"format":".1f","values":[0,0.5,1,1.5,2,2.5,3]}}}},
{"title":"Absolute Error","width":990,"height":930,"data":{"name":"eb"},"mark":{"type":"rect","binSpacing":0},"encoding":{"x":{"field":"x","type":"quantitative","bin":{"step":0.05,"extent":[0,2.25]},"scale":{"domain":[0,2.25]},"axis":{"title":"x","format":".2f","values":[0,0.25,0.5,0.75,1,1.25,1.5,1.75,2,2.25]}},"y":{"field":"y","type":"quantitative","bin":{"step":0.1,"extent":[0,1]},"scale":{"domain":[0,1]},"axis":{"title":"y","format":".1f","values":[0,0.2,0.4,0.6,0.8,1]}},"color":{"field":"v","type":"quantitative","scale":{"domain":[0,0.0074,0.0149,0.0223,0.0298,0.0372,0.0446,0.0521,0.0595],"range":["#00007f","#0000ff","#0080ff","#14ffe2","#7bff7b","#e2ff14","#ff9600","#ff2100","#7f0000"]},"legend":{"title":null,"format":".2f","values":[0.01,0.02,0.03,0.04,0.05]}}}}
]}]}
